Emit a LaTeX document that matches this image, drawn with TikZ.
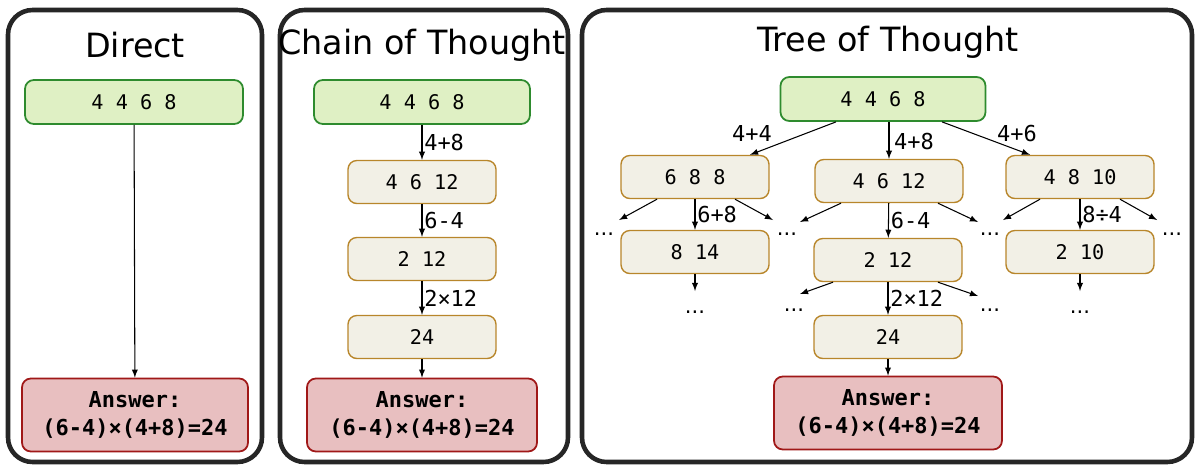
\documentclass[tikz,border=0pt]{standalone}
\usepackage{fontspec}
\setmainfont{DejaVu Sans}
\setmonofont{DejaVu Sans Mono}
\usetikzlibrary{positioning}
\definecolor{startfill}{HTML}{DFF0C4}
\definecolor{startline}{HTML}{2E8B2E}
\definecolor{stepfill}{HTML}{F2F0E6}
\definecolor{stepline}{HTML}{B8862B}
\definecolor{ansfill}{HTML}{E8BFC0}
\definecolor{ansline}{HTML}{A01818}
\tikzset{
  panel/.style={draw=black!85, line width=2.6pt, rounded corners=14pt},
  title/.style={font=\fontsize{19}{23}\selectfont},
  start/.style={draw=startline, fill=startfill, line width=1pt, rounded corners=5pt,
    minimum height=0.88cm, font=\ttfamily\fontsize{11.5}{13}\selectfont},
  thought/.style={draw=stepline, fill=stepfill, line width=0.8pt, rounded corners=5pt,
    minimum width=2.96cm, minimum height=0.86cm, font=\ttfamily\fontsize{11.5}{13}\selectfont},
  answer/.style={draw=ansline, fill=ansfill, line width=1pt, rounded corners=5pt,
    minimum height=1.46cm, align=center, font=\ttfamily\bfseries\fontsize{12.5}{16}\selectfont},
  lbl/.style={font=\ttfamily\fontsize{12.5}{14}\selectfont, inner sep=1pt},
  dots/.style={font=\fontsize{12}{13}\selectfont, inner sep=0pt},
  arr/.style={-latex, line width=0.6pt}
}
\begin{document}
\begin{tikzpicture}[x=0.02cm, y=-0.02cm]
\useasboundingbox (0,0) rectangle (1200,471);
% frames
\draw[panel] (8,10) rectangle (262,462);
\draw[panel] (280,10) rectangle (568,462);
\draw[panel] (582,10) rectangle (1192,462);
\node (t1) [title] at (135,45) {Direct};
\node (t2) [title] at (422,45) {Chain of Thought};
\node (t3) [title] at (888,42) {Tree of Thought};

% direct
\node (d0) [start, minimum width=4.36cm] at (134,102) {4 4 6 8};
\node (da) [answer, minimum width=4.52cm] at (135,415) {Answer:\\(6-4)×(4+8)=24};
\draw[arr] (d0) -- (da);

% chain of thought
\node (c0) [start, minimum width=4.32cm] at (422,102) {4 4 6 8};
\node (c1) [thought] at (422,182) {4 6 12};
\node (c2) [thought] at (422,259) {2 12};
\node (c3) [thought] at (422,337) {24};
\node (ca) [answer, minimum width=4.6cm] at (422,415) {Answer:\\(6-4)×(4+8)=24};
\draw[arr] (c0) -- node[lbl, right] {4+8} (c1);
\draw[arr] (c1) -- node[lbl, right] {6-4} (c2);
\draw[arr] (c2) -- node[lbl, right] {2×12} (c3);
\draw[arr] (c3) -- (ca);

% tree of thought
\node (r0) [start, minimum width=4.1cm] at (883,99) {4 4 6 8};
\node (a1) [thought] at (695,177) {6 8 8};
\node (b1) [thought] at (889,181) {4 6 12};
\node (e1) [thought] at (1080,177) {4 8 10};
\node (a2) [thought] at (695,252) {8 14};
\node (b2) [thought] at (888,260) {2 12};
\node (e2) [thought] at (1080,252) {2 10};
\node (b3) [thought] at (888,337) {24};
\node (ra) [answer, minimum width=4.56cm] at (888,413) {Answer:\\(6-4)×(4+8)=24};
\draw[arr] (r0.south -| 836,0) -- (a1.north -| 750,0);
\draw[arr] (r0.south -| 889,0) -- (b1);
\draw[arr] (r0.south -| 942,0) -- (e1.north -| 1030,0);
\node (l1) [lbl] at (752,133) {4+4};
\node (l2) [lbl] at (914,141) {4+8};
\node (l3) [lbl] at (1017,133) {4+6};
\draw[arr] (a1) -- node[lbl, right] {6+8} (a2);
\draw[arr] (b1) -- node[lbl, right] {6-4} (b2);
\draw[arr] (e1) -- node[lbl, right] {8÷4} (e2);
\draw[arr] (b2) -- node[lbl, right] {2×12} (b3);
\draw[arr] (b3) -- (ra);
% pruned branches
\coordinate (a1l) at (619,220); \coordinate (a1r) at (773,220);
\coordinate (b1l) at (800,222); \coordinate (b1r) at (978,222);
\coordinate (e1l) at (1003,220); \coordinate (e1r) at (1157,220);
\coordinate (b2l) at (800,294); \coordinate (b2r) at (978,296);
\coordinate (a2d) at (695,291); \coordinate (e2d) at (1080,291);
\draw[arr] (a1.south -| 657,0) -- (a1l);
\draw[arr] (a1.south -| 735,0) -- (a1r);
\draw[arr] (b1.south -| 841,0) -- (b1l);
\draw[arr] (b1.south -| 938,0) -- (b1r);
\draw[arr] (e1.south -| 1040,0) -- (e1l);
\draw[arr] (e1.south -| 1120,0) -- (e1r);
\draw[arr] (b2.south -| 833,0) -- (b2l);
\draw[arr] (b2.south -| 938,0) -- (b2r);
\draw[arr] (a2) -- (a2d);
\draw[arr] (e2) -- (e2d);
\node (p1) [dots] at (604,234) {...};
\node (p2) [dots] at (787,234) {...};
\node (p3) [dots] at (990,234) {...};
\node (p4) [dots] at (1172,234) {...};
\node (p5) [dots] at (794,310) {...};
\node (p6) [dots] at (990,310) {...};
\node (p7) [dots] at (695,312) {...};
\node (p8) [dots] at (1080,312) {...};
\end{tikzpicture}
\end{document}
